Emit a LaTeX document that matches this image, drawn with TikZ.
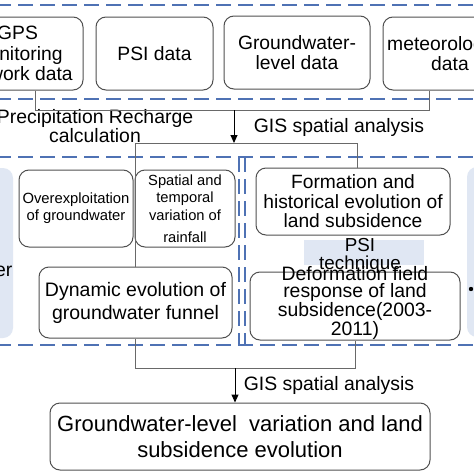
\documentclass[tikz,border=0pt]{standalone}
\usepackage{fontspec}
\setmainfont{Liberation Sans}
\usetikzlibrary{arrows.meta}
\definecolor{dashblue}{RGB}{79,114,180}
\definecolor{boxline}{RGB}{80,80,80}
\definecolor{lightfill}{RGB}{224,231,243}
\definecolor{conncol}{RGB}{105,105,105}
\begin{document}
\begin{tikzpicture}[x=1pt,y=-1pt,
 box/.style={draw=boxline, line width=1pt, rounded corners=10pt, align=center, inner sep=0pt, font=\fontsize{19.3}{20.5}\selectfont},
 sectline/.style={draw=dashblue, line width=2.5pt, dash pattern=on 15pt off 7pt},
 vsectline/.style={draw=dashblue, line width=2pt, dash pattern=on 15pt off 7pt},
 conn/.style={draw=conncol, line width=0.9pt},
 arr/.style={draw=black, line width=1pt, -{Triangle[length=8pt,width=7pt]}},
 lbl/.style={align=center, inner sep=0pt, font=\fontsize{19.4}{18.5}\selectfont},
 partbox/.style={fill=lightfill, rounded corners=10pt, inner sep=0pt},
]
\useasboundingbox (0,0) rectangle (474,474);
\clip (0,0) rectangle (474,474);
\fill[white] (0,0) rectangle (474,474);

% section dashed lines
\draw[sectline] (-4,5) -- (480,5);
\draw[sectline] (-4,99) -- (480,99);
\draw[sectline] (-4,157) -- (480,157);
\draw[sectline] (-4,345) -- (480,345);
\draw[vsectline] (239,157) -- (239,345);
\draw[vsectline] (245,157) -- (245,345);

% top row
\node[box, minimum width=131pt, minimum height=73pt] (gps) at (17.5,53.5) {GPS\\monitoring\\network data};
\node[box, minimum width=117pt, minimum height=73pt] (psi) at (154.5,53.5) {PSI data};
\node[box, minimum width=146pt, minimum height=73pt] (gwl) at (297,52.5) {Groundwater-\\level data};
\node[box, minimum width=134pt, minimum height=73pt] (met) at (450,53.5) {meteorological\\data};

% labels
\node[lbl] (prec) at (95,126) {Precipitation Recharge\\calculation};
\node[lbl] (gis1) at (339,127) {GIS spatial analysis};

% middle left
\node[partbox, minimum width=113pt, minimum height=170pt] (leftpart) at (-43.5,253) {};
\node[anchor=east, inner sep=0pt, font=\fontsize{19.4}{20}\selectfont] (lefttxt) at (12.5,271) {er};
\node[box, minimum width=114pt, minimum height=77pt, font=\fontsize{14.8}{17}\selectfont] (over) at (76,208.5) {Overexploitation\\of groundwater};
\node[box, minimum width=100pt, minimum height=77pt, font=\fontsize{14.7}{17.5}\selectfont] (spat) at (185,208.5) {Spatial and\\temporal\\variation of\\[5pt]rainfall};
\node[box, minimum width=193pt, minimum height=71pt, font=\fontsize{19.5}{23}\selectfont] (dyn) at (135.5,302.5) {Dynamic evolution of\\groundwater funnel};

% middle right
\node[partbox, minimum width=100pt, minimum height=170pt] (rightpart) at (517,252) {};
\fill[black] (471,289) circle (2.2pt);
\node[box, minimum width=194pt, minimum height=67pt, font=\fontsize{19.2}{19.5}\selectfont] (form) at (353,201.5) {Formation and\\historical evolution of\\land subsidence};
\node[fill=lightfill, minimum width=120pt, minimum height=25pt, inner sep=0pt] (psirect) at (364,252.5) {};
\node[box, minimum width=210pt, minimum height=68pt] (defo) at (355,306) {};
\node[lbl, font=\fontsize{18.8}{18}\selectfont] (psitxt) at (360,256) {PSI\\technique};
\node[lbl, font=\fontsize{19.4}{16.5}\selectfont] (defotxt) at (355,303) {Deformation field\\response of land\\subsidence(2003-\\2011)};

% bottom
\node[box, minimum width=380pt, minimum height=67pt, font=\fontsize{22}{26}\selectfont] (final) at (240,436.5) {Groundwater-level~ variation and land\\subsidence evolution};
\node[lbl] (gis2) at (329,385) {GIS spatial analysis};

% connectors
\coordinate (jA) at (35,110);
\coordinate (jB) at (429,110);
\coordinate (jC) at (234,110);
\coordinate (jD) at (234,143);
\coordinate (jE) at (135,143);
\coordinate (jF) at (357,143);
\coordinate (jG) at (135,368);
\coordinate (jH) at (355,368);
\coordinate (jI) at (235,368);
\draw[conn] (gps.south -| jA) -- (jA) -- (jB) -- (met.south -| jB);
\draw[arr] (jC) -- (jD);
\draw[conn] (dyn.north -| jE) -- (jE) -- (jF) -- (form.north -| jF);
\draw[conn] (dyn.south -| jG) -- (jG) -- (jH) -- (defo.south -| jH);
\draw[arr] (jI) -- (final.north -| jI);
\end{tikzpicture}
\end{document}
